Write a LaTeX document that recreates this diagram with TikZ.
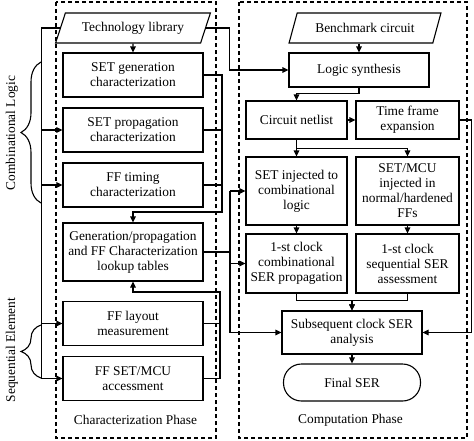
\documentclass[tikz,border=0pt]{standalone}
\usepackage{fontspec}
\setmainfont{Liberation Serif}
\usetikzlibrary{positioning, shapes.geometric, arrows.meta, decorations.pathreplacing}

\begin{document}
\begin{tikzpicture}[x=1pt, y=-1pt, node distance = 55pt,
        font=\fontsize{13.4}{15}\selectfont,
        box/.style={draw, line width=1.1pt, minimum width=140pt, minimum height=44pt, inner sep=1pt, align=center},
        io/.style={draw, line width=1.1pt, trapezium, trapezium left angle=62, trapezium right angle=118,
            trapezium stretches=true, minimum width=155pt, minimum height=30pt, inner sep=1pt},
        arr/.style={line width=1.1pt, -{Triangle[length=6pt, width=5.5pt]}},
        line/.style={line width=1.1pt},
        phase/.style={line width=1.3pt, dash pattern=on 4pt off 3pt}]
        \useasboundingbox (0,0) rectangle (474,440);

        \draw [phase] (56,2) rectangle (216,438);
        \draw [phase] (239,2) rectangle (467,438);
        \node (charlbl) at (135.5,420) {Characterization Phase};
        \node (complbl) at (350.5,420) {Computation Phase};

        \node [io] (techlib) at (133,28) {Technology library};
        \node [box] (gen) at (133,75) {SET generation\\characterization};
        \node [box, below of = gen] (prop) {SET propagation\\characterization};
        \node [box, below of = prop] (timing) {FF timing\\characterization};
        \node [box, minimum height=58pt, node distance=67pt, below of = timing] (lut)
            {Generation/propagation\\and FF Characterization\\lookup tables};
        \node [box, node distance=71.5pt, below of = lut] (layout) {FF layout\\measurement};
        \node [box, below of = layout] (ffset) {FF SET/MCU\\accessment};

        \node [io, minimum width=152pt] (bench) at (365,28) {Benchmark circuit};
        \node [box, minimum height=34pt] (synth) at (359,70) {Logic synthesis};
        \node [box, minimum width=101pt, minimum height=38pt] (netlist) at (296.5,120) {Circuit netlist};
        \node [box, minimum width=103pt, minimum height=38pt, node distance=111pt, right of = netlist] (frame)
            {Time frame\\expansion};
        \node [box, minimum width=101pt, minimum height=68pt] (inj) at (296.5,191)
            {SET injected to\\combinational\\logic};
        \node [box, minimum width=103pt, minimum height=68pt, node distance=111pt, right of = inj] (ffinj)
            {SET/MCU\\injected in\\normal/hardened\\FFs};
        \node [box, minimum width=101pt, minimum height=59pt] (comb) at (296.5,263.5)
            {1-st clock\\combinational\\SER propagation};
        \node [box, minimum width=103pt, minimum height=59pt, node distance=111pt, right of = comb] (seq)
            {1-st clock\\sequential SER\\assessment};
        \node [box, minimum height=43pt] (subs) at (352,332.5) {Subsequent clock SER\\analysis};
        \node [box, rounded corners=18pt, minimum width=137pt, minimum height=37pt, node distance=50pt,
            below of = subs] (final) {Final SER};

        \draw [line, decorate, decoration={brace, amplitude=20pt}] (41,203) -- (41,62);
        \draw [line, decorate, decoration={brace, amplitude=20pt}] (41,378) -- (41,325);
        \node [rotate=90] (comblbl) at (12,133) {Combinational Logic};
        \node [rotate=90] (seqlbl) at (12,350) {Sequential Element};

        \draw [arr] (techlib) -- (gen);
        \draw [arr] (techlib.east) -- ++(23,0) |- (synth.west);
        \draw [arr] (techlib.west) -- ++(-18,0) coordinate (lbus) |- (ffset.west);
        \draw [arr] (lbus |- prop.west) -- (prop.west);
        \draw [arr] (lbus |- timing.west) -- (timing.west);
        \draw [arr] (lbus |- layout.west) -- (layout.west);

        \coordinate (j1) at (222,212);
        \draw [arr] (gen.east) -| (j1) -| (lut.north);
        \draw [line] (prop.east) -- (prop.east -| j1);
        \draw [line] (timing.east) -- (timing.east -| j1);

        \coordinate (j2) at (220,292);
        \draw [arr] (ffset.east) -| (j2) -| (lut.south);
        \draw [line] (layout.east) -- (layout.east -| j2);

        \coordinate (j3) at (230,252);
        \draw [line] (lut.east) -- (lut.east -| j3);
        \draw [arr] (j3 |- inj.west) -- (inj.west);
        \draw [arr] (j3 |- inj.west) |- (subs.west);
        \draw [arr] (j3 |- comb.west) -- (comb.west);

        \draw [arr] (bench.south -| synth.north) -- (synth.north);
        \draw [arr] (synth.south) -- ++(0,6) -| (netlist.north);
        \draw [arr] (netlist) -- (frame);
        \draw [arr] (netlist) -- (inj);
        \draw [arr] (netlist.south) -- ++(0,9) -| (ffinj.north);
        \draw [arr] (inj) -- (comb);
        \draw [arr] (ffinj) -- (seq);
        \draw [arr] (comb.south) -- ++(0,7) -| (subs.north);
        \draw [arr] (seq.south) -- ++(0,7) -| (subs.north);
        \draw [arr] (frame.east) -- ++(12,0) |- (subs.east);
        \draw [arr] (subs) -- (final);
    \end{tikzpicture}
\end{document}
